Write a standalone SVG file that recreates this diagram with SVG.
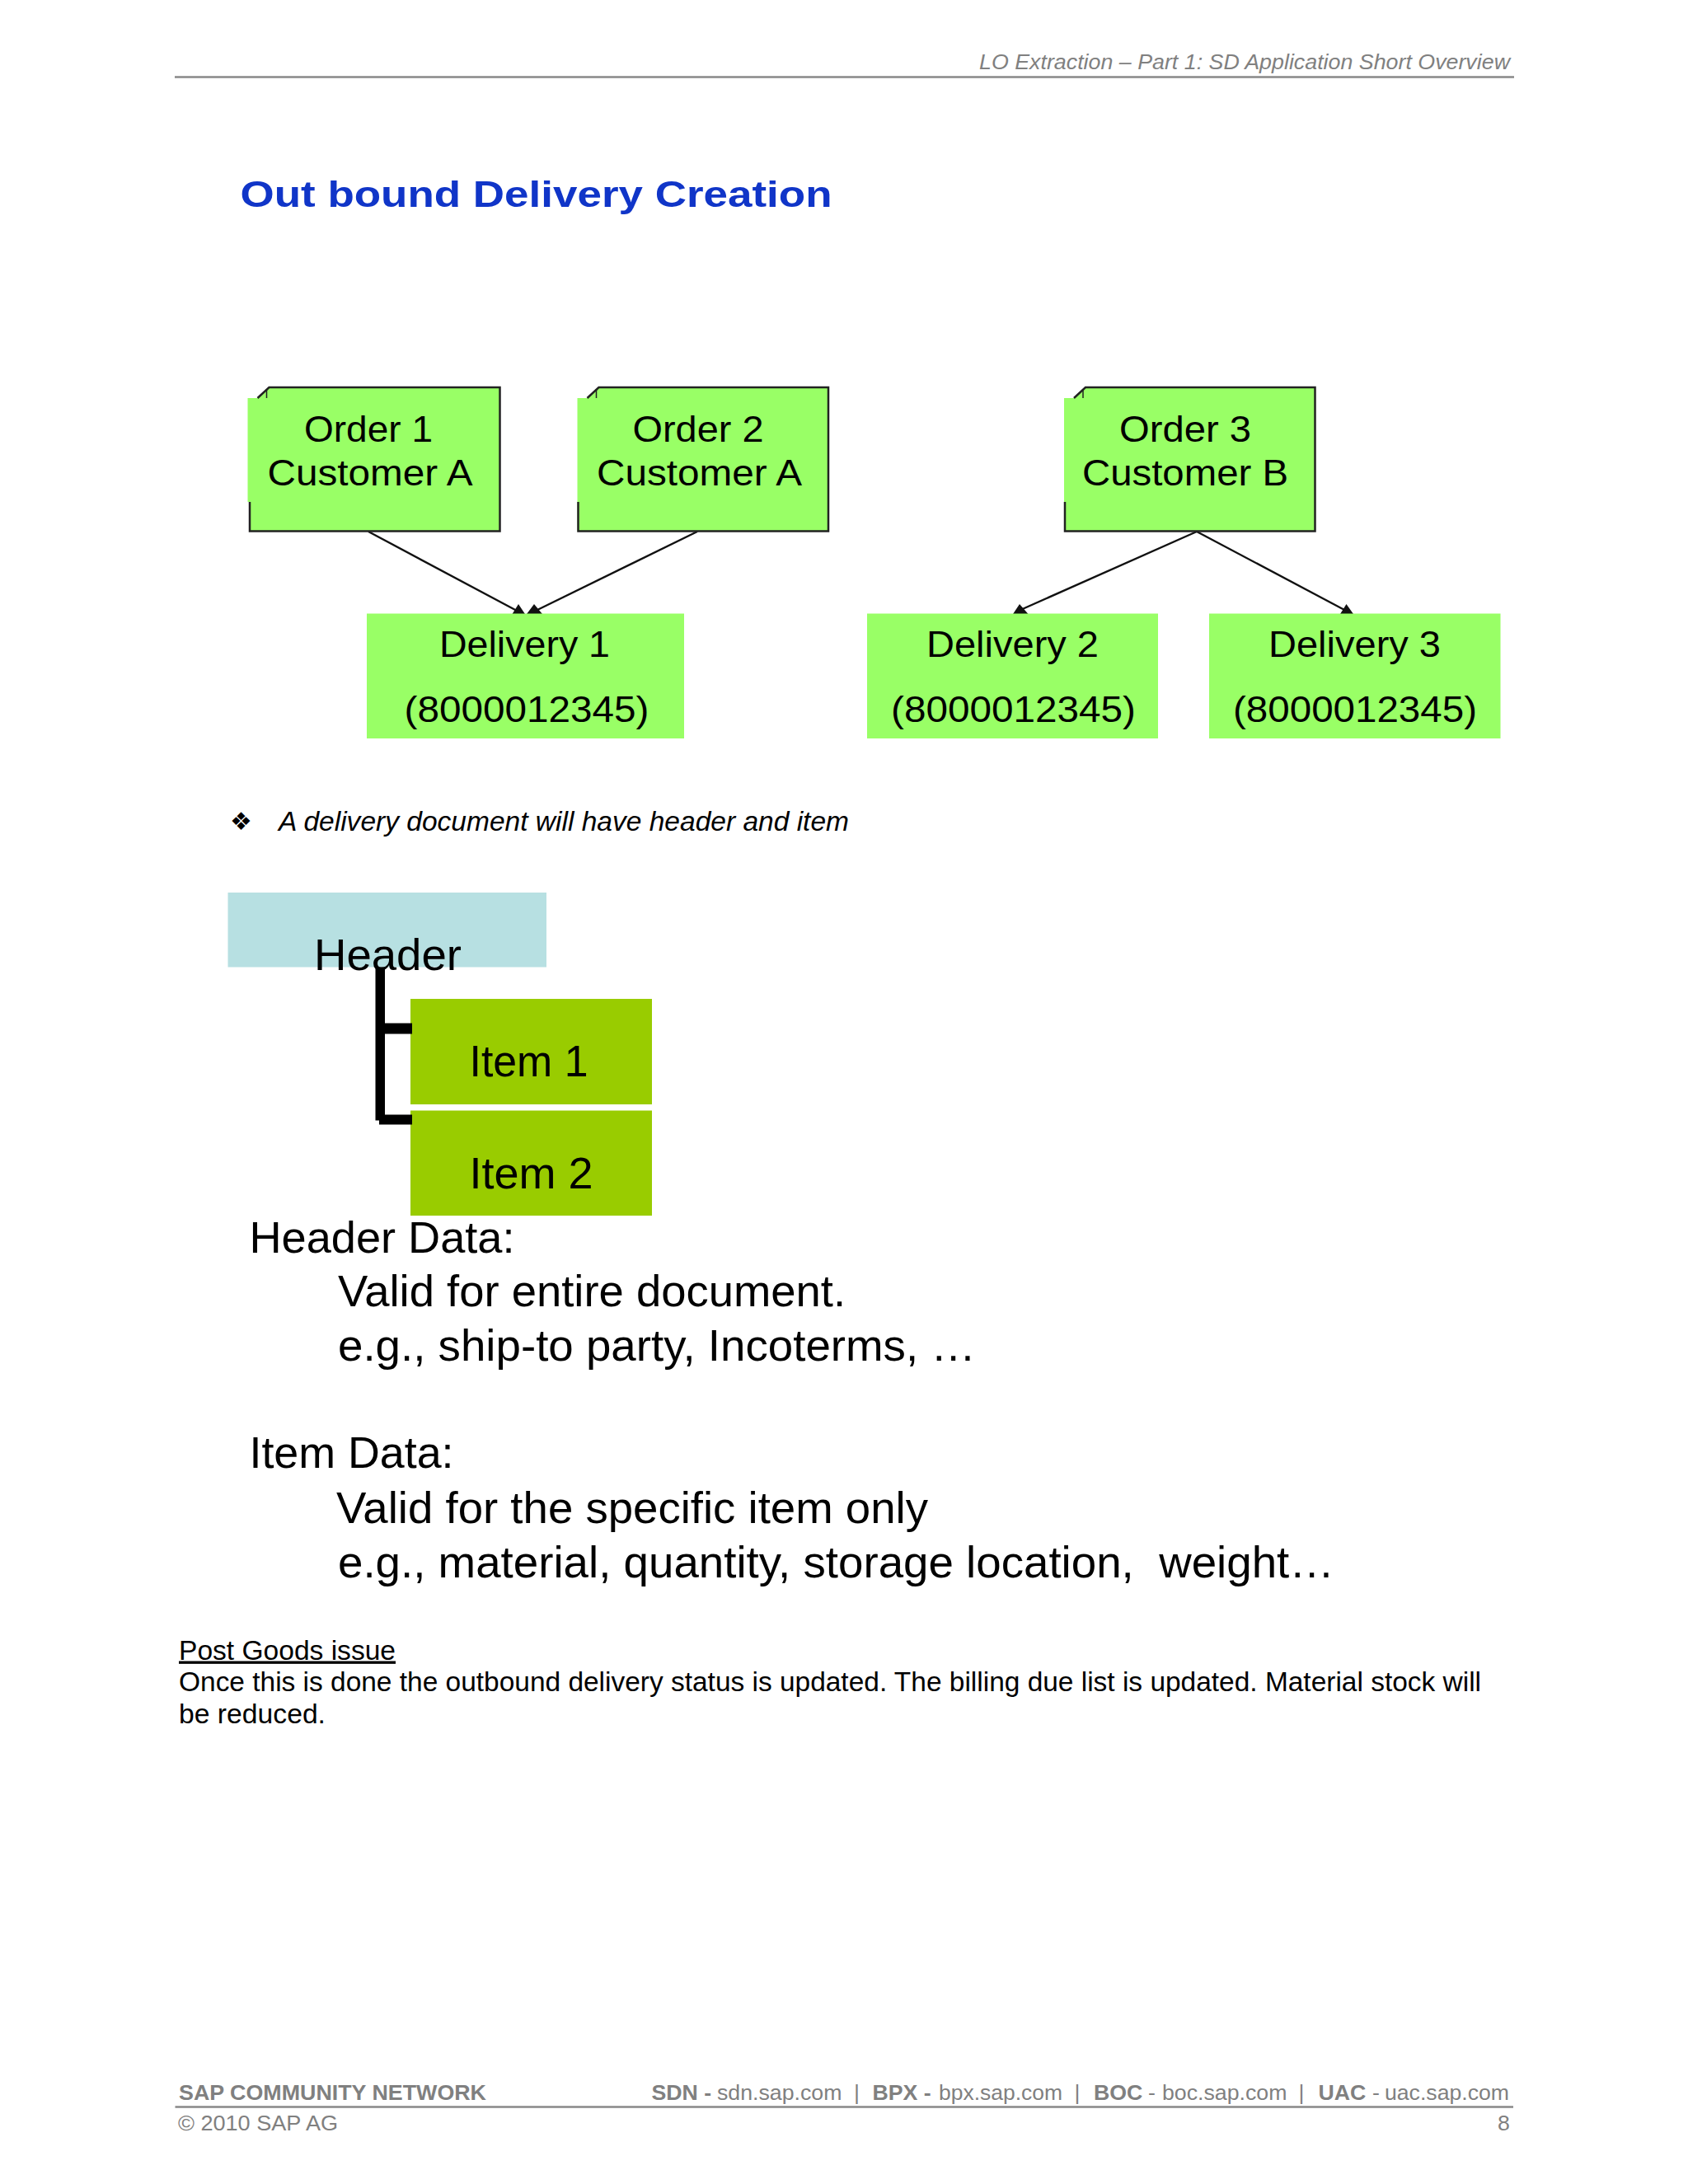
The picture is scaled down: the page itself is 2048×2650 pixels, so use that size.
<svg xmlns="http://www.w3.org/2000/svg" width="2048" height="2650" viewBox="0 0 2048 2650">
<style>
text{font-family:"Liberation Sans",Arial,sans-serif;fill:#000}
.n{font-size:45px}
.b{font-size:54px}
.p{font-size:33.4px}
.g{font-size:26.7px;fill:#808080}
.gb{font-weight:bold}
.order{fill:#99ff66}
.edge{fill:none;stroke:#222;stroke-width:2.5}
.fold{stroke:#222;stroke-width:1.5}
.del{fill:#99ff66}
.item{fill:#99cc00}
.c{stroke:#111;stroke-width:2.4;fill:none}
.h{fill:#111}
.rule{stroke:#888;stroke-width:2.5}
</style>
<rect width="2048" height="2650" fill="#fff"/>
<g id="page-header">
<text class="g" font-style="italic" x="1188" y="84" textLength="644" lengthAdjust="spacingAndGlyphs">LO Extraction – Part 1: SD Application Short Overview</text>
<line class="rule" x1="212" y1="93.5" x2="1837" y2="93.5"/>
</g>
<text id="title" x="291.5" y="251" font-size="45" font-weight="bold" style="fill:#1035c8" textLength="718" lengthAdjust="spacingAndGlyphs">Out bound Delivery Creation</text>
<g id="connectors">
<line class="c" x1="447" y1="645" x2="627" y2="741"/>
<line class="c" x1="846" y1="645" x2="650" y2="741"/>
<line class="c" x1="1452" y1="645" x2="1236" y2="741"/>
<line class="c" x1="1452" y1="645" x2="1633" y2="741"/>
<path class="h" d="M629 733L621.5 745H637ZM648 733L639 745H658ZM1237 733L1229 745H1247.5ZM1633.5 733L1626 745H1642Z"/>
</g>
<g id="order1">
<path class="order" d="M300.5 483H312.5L326.5 469H607V645H303V609H300.5Z"/>
<path class="edge" d="M312.5 483L326.5 470H606.5V644.5H303V609"/>
<path class="fold" d="M323.5 472V483"/>
<text class="n" x="369" y="536" textLength="156" lengthAdjust="spacingAndGlyphs">Order 1</text>
<text class="n" x="324.5" y="589" textLength="249" lengthAdjust="spacingAndGlyphs">Customer A</text></g>
<g id="order2">
<path class="order" d="M700.5 483H712.5L726.5 469H1005.5V645H700.5Z"/>
<path class="edge" d="M712.5 483L726.5 470H1005V644.5H701.5V609"/>
<path class="fold" d="M723.5 472V483"/>
<text class="n" x="767.5" y="536" textLength="159" lengthAdjust="spacingAndGlyphs">Order 2</text>
<text class="n" x="724" y="589" textLength="249" lengthAdjust="spacingAndGlyphs">Customer A</text></g>
<g id="order3">
<path class="order" d="M1291 483H1303L1317 469H1596V645H1291Z"/>
<path class="edge" d="M1303 483L1317 470H1595.5V644.5H1292V609"/>
<path class="fold" d="M1314 472V483"/>
<text class="n" x="1358" y="536" textLength="160" lengthAdjust="spacingAndGlyphs">Order 3</text>
<text class="n" x="1313" y="589" textLength="250" lengthAdjust="spacingAndGlyphs">Customer B</text></g>
<g id="delivery1"><rect class="del" x="445" y="744.5" width="385" height="151.5"/>
<text class="n" x="533" y="796.5" textLength="207" lengthAdjust="spacingAndGlyphs">Delivery 1</text>
<text class="n" x="490.5" y="876" textLength="297" lengthAdjust="spacingAndGlyphs">(8000012345)</text></g>
<g id="delivery2"><rect class="del" x="1052" y="744.5" width="353" height="151.5"/>
<text class="n" x="1124" y="796.5" textLength="209" lengthAdjust="spacingAndGlyphs">Delivery 2</text>
<text class="n" x="1081" y="876" textLength="297" lengthAdjust="spacingAndGlyphs">(8000012345)</text></g>
<g id="delivery3"><rect class="del" x="1467" y="744.5" width="353.5" height="151.5"/>
<text class="n" x="1539" y="796.5" textLength="209" lengthAdjust="spacingAndGlyphs">Delivery 3</text>
<text class="n" x="1496" y="876" textLength="296" lengthAdjust="spacingAndGlyphs">(8000012345)</text></g>
<g id="bullet-line">
<text x="279" y="1007" font-size="30" style="font-family:'DejaVu Sans',sans-serif">❖</text>
<text class="p" font-style="italic" x="338" y="1007.5" textLength="692" lengthAdjust="spacingAndGlyphs">A delivery document will have header and item</text>
</g>
<g id="header-node"><rect x="276.5" y="1083" width="386.5" height="90.5" fill="#b7e0e2"/>
<text class="b" x="381" y="1177" textLength="179" lengthAdjust="spacingAndGlyphs">Header</text></g>
<g id="item1"><rect class="item" x="498" y="1212" width="293" height="128"/>
<text class="b" x="569.5" y="1306" textLength="144" lengthAdjust="spacingAndGlyphs">Item 1</text></g>
<g id="item2"><rect class="item" x="498" y="1347.5" width="293" height="127.5"/>
<text class="b" x="569.5" y="1442" textLength="150" lengthAdjust="spacingAndGlyphs">Item 2</text></g>
<g id="tree-connectors">
<path fill="#000" d="M455.5 1173.5H467V1241.5H500V1254.5H467V1352.5H500V1364.5H460V1359.5H455.5Z"/>
</g>
<g id="data-text">
<text class="b" x="302.5" y="1520" textLength="322" lengthAdjust="spacingAndGlyphs">Header Data:</text>
<text class="b" x="410" y="1585" textLength="616" lengthAdjust="spacingAndGlyphs">Valid for entire document.</text>
<text class="b" x="410" y="1651" textLength="774" lengthAdjust="spacingAndGlyphs">e.g., ship-to party, Incoterms, …</text>
<text class="b" x="302.5" y="1781" textLength="248" lengthAdjust="spacingAndGlyphs">Item Data:</text>
<text class="b" x="408" y="1848" textLength="718" lengthAdjust="spacingAndGlyphs">Valid for the specific item only</text>
<text class="b" x="410" y="1914" xml:space="preserve" textLength="1209" lengthAdjust="spacingAndGlyphs">e.g., material, quantity, storage location,  weight…</text>
</g>
<g id="post-goods">
<text class="p" x="217" y="2013.5" text-decoration="underline" textLength="263" lengthAdjust="spacingAndGlyphs">Post Goods issue</text>
<text class="p" x="217" y="2052" textLength="1580" lengthAdjust="spacingAndGlyphs">Once this is done the outbound delivery status is updated. The billing due list is updated. Material stock will</text>
<text class="p" x="217" y="2091" textLength="178" lengthAdjust="spacingAndGlyphs">be reduced.</text>
</g>
<g id="page-footer">
<text class="g gb" x="217" y="2548" textLength="373" lengthAdjust="spacingAndGlyphs">SAP COMMUNITY NETWORK</text>
<text class="g gb" x="790.5" y="2548">SDN -</text><text class="g" x="870" y="2548" textLength="151.5" lengthAdjust="spacingAndGlyphs">sdn.sap.com</text><text class="g" x="1036" y="2548">|</text>
<text class="g gb" x="1058.5" y="2548">BPX -</text><text class="g" x="1139" y="2548" textLength="150" lengthAdjust="spacingAndGlyphs">bpx.sap.com</text><text class="g" x="1303.5" y="2548">|</text>
<text class="g gb" x="1327" y="2548">BOC</text><text class="g" x="1393" y="2548">-</text><text class="g" x="1410" y="2548" textLength="151.5" lengthAdjust="spacingAndGlyphs">boc.sap.com</text><text class="g" x="1575.5" y="2548">|</text>
<text class="g gb" x="1599.5" y="2548">UAC</text><text class="g" x="1665" y="2548">-</text><text class="g" x="1680" y="2548" textLength="151" lengthAdjust="spacingAndGlyphs">uac.sap.com</text>
<line class="rule" x1="212.5" y1="2556.5" x2="1836" y2="2556.5"/>
<text class="g" x="216" y="2585" textLength="194" lengthAdjust="spacingAndGlyphs">© 2010 SAP AG</text>
<text class="g" x="1817" y="2585">8</text>
</g>
</svg>
